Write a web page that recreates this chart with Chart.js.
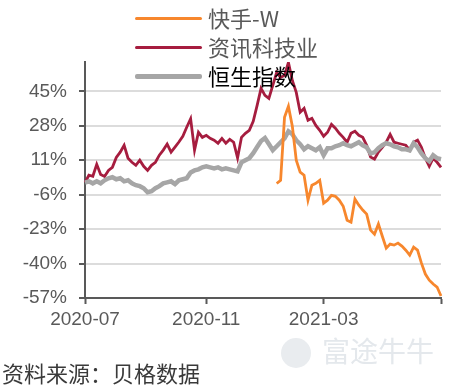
<!DOCTYPE html>
<html><head><meta charset="utf-8">
<script src="https://cdn.jsdelivr.net/npm/chart.js@4"></script>
<style>
html,body{margin:0;padding:0;background:#fff;}
#wrap{position:relative;width:460px;height:390px;overflow:hidden;font-family:'Liberation Sans','Noto Sans CJK SC',sans-serif;}
#c{position:absolute;left:0;top:0;}
.lline{position:absolute;left:135px;width:67px;}
.ltext{position:absolute;left:208px;font-family:'Noto Sans CJK SC','Liberation Sans',sans-serif;font-size:22px;line-height:24px;white-space:nowrap;}
#src{position:absolute;left:2px;top:359px;font-family:'Noto Sans CJK SC',sans-serif;font-size:22px;line-height:26px;color:#3a3a3a;}
#wm{position:absolute;left:322px;top:333px;font-family:'Noto Sans CJK SC',sans-serif;font-size:28px;line-height:34px;color:#e4e8ec;}
#logo{position:absolute;left:281px;top:338px;width:30px;height:30px;border-radius:50%;background:#e9ecef;}
</style></head><body>
<div id="wrap">
<canvas id="c" width="460" height="390"></canvas>
<div id="legend"></div>
<div id="logo"></div>
<div id="wm">富途牛牛</div>
<div id="src">资料来源：贝格数据</div>
</div>
<script>
const dates = ['2020-07-01','2020-07-05','2020-07-09','2020-07-13','2020-07-17','2020-07-21','2020-07-25','2020-07-29',
'2020-08-02','2020-08-06','2020-08-10','2020-08-14','2020-08-18','2020-08-22','2020-08-26','2020-08-30',
'2020-09-03','2020-09-07','2020-09-11','2020-09-15','2020-09-19','2020-09-23','2020-09-27',
'2020-10-01','2020-10-05','2020-10-09','2020-10-13','2020-10-17','2020-10-21','2020-10-25','2020-10-29',
'2020-11-02','2020-11-06','2020-11-10','2020-11-14','2020-11-18','2020-11-22','2020-11-26','2020-11-30',
'2020-12-04','2020-12-08','2020-12-12','2020-12-16','2020-12-20','2020-12-24','2020-12-28',
'2021-01-01','2021-01-05','2021-01-09','2021-01-13','2021-01-17','2021-01-21','2021-01-25','2021-01-29',
'2021-02-02','2021-02-06','2021-02-10','2021-02-14','2021-02-18','2021-02-22','2021-02-26',
'2021-03-02','2021-03-06','2021-03-10','2021-03-14','2021-03-18','2021-03-22','2021-03-26','2021-03-30',
'2021-04-03','2021-04-07','2021-04-11','2021-04-15','2021-04-19','2021-04-23','2021-04-27',
'2021-05-01','2021-05-05','2021-05-09','2021-05-13','2021-05-17','2021-05-21','2021-05-25','2021-05-29',
'2021-06-02','2021-06-06','2021-06-10','2021-06-14','2021-06-18','2021-06-22','2021-06-26','2021-06-30'];

// 快手-W (%), listed from 2021-01-13 in this chart
const kuaishou = [null,null,null,null,null,null,null,null,null,null,
null,null,null,null,null,null,null,null,null,null,
null,null,null,null,null,null,null,null,null,null,
null,null,null,null,null,null,null,null,null,null,
null,null,null,null,null,null,null,null,null,
-0.5,1.1,32.2,37.6,27.8,11,5.1,3.6,-8.7,-1.3,-0.4,1.1,
-10.2,-8.7,-6.3,-6.8,-8.7,-11.7,-18.6,-19.6,-8.2,-11.2,-13.6,-15.6,-23.5,-25.5,-20.5,-26.5,
-32.4,-30.4,-30.9,-29.9,-31.4,-33.4,-35.8,-31.9,-33.4,-39.8,-45.2,-48.2,-50.1,-51.6,-56];

// 资讯科技业 (%)
const itSector = [0,3.6,3.1,9,4,3,6,7.5,12.4,15,
18.4,12,10,8.5,11,8,6,8.5,10,13.5,
16,19,15,17.5,20,22.8,27.3,31.5,16,24.8,
22.3,23.3,21.8,20.9,19.4,21.8,19.4,21.3,19.9,12.1,
22.3,24.3,25.8,30.2,38.1,46.5,43,41.5,48,54.4,
51.9,52.9,59.3,50.4,44.5,34.7,36.6,30.7,31.7,28.2,
25.8,22.8,24.8,28.7,26.8,24.3,22.3,19.9,24.3,25.3,
23.3,22.3,18.4,12.6,11.6,15,17.4,19.9,23.8,19.9,
19.4,18.9,18.4,16,19.9,20.9,17.4,12,8,12,10,7.5];

// 恒生指数 (%)
const hsi = [0,0.6,-0.4,0.6,-0.4,1.1,2.1,2.6,1.6,2.1,
0.6,1.1,-0.4,-1.3,-1.8,-2.8,-4.8,-4.3,-2.8,-1.8,
-0.4,0.1,0.6,-0.8,1.1,1.6,2.1,5,6,6.5,
7.5,8,7.5,7,7.5,6.5,7,6.5,6,5.5,
10,11,12,14.5,17.5,20.5,22,19,16,17.9,
19.9,21.8,25.3,23.8,20.9,18.9,16.4,17.9,16.9,15.9,
17.4,13.5,16.9,16.9,17.9,18.4,19.4,18.4,17.9,18.9,
19.9,18.4,17.4,14.4,14.9,16.9,18.4,19.4,18.9,17.9,
17.4,16.4,16.4,15.9,19.4,17.4,14.4,12,10.5,13.5,12,11.5];

const seriesNames = ['快手-W','资讯科技业','恒生指数'];
const seriesColors = ['#F7872D','#A61D3F','#A6A6A6'];
const legendTextColors = ['#595959','#595959','#000000'];
const xTickDates = ['2020-07-01','2020-11-02','2021-03-02','2021-06-30'];
const xTickLabels = ['2020-07','2020-11','2021-03',''];
const yTicks = [-57,-40,-23,-6,11,28,45];

// HTML legend
const legendRows = [18,47,76];
const lineW = [3,3,5];
const lg = document.getElementById('legend');
seriesNames.forEach((n,i)=>{
  const l = document.createElement('div');
  l.className='lline';
  l.style.top = (legendRows[i]-lineW[i]/2)+'px';
  l.style.height = lineW[i]+'px';
  l.style.background = seriesColors[i];
  l.style.borderRadius = '2px';
  lg.appendChild(l);
  const t = document.createElement('div');
  t.className='ltext';
  t.style.top = (legendRows[i]-13)+'px';
  t.style.color = legendTextColors[i];
  t.textContent = n;
  lg.appendChild(t);
});

const tickFont = {family:"'Liberation Sans', Arial, sans-serif", size:19};

new Chart(document.getElementById('c'), {
  type:'line',
  data:{
    labels: dates,
    datasets:[
      {label:seriesNames[0], data:kuaishou, borderColor:seriesColors[0], borderWidth:2.8, pointRadius:0, tension:0, order:0, spanGaps:false},
      {label:seriesNames[1], data:itSector, borderColor:seriesColors[1], borderWidth:2.8, pointRadius:0, tension:0, order:2},
      {label:seriesNames[2], data:hsi, borderColor:seriesColors[2], borderWidth:4.5, pointRadius:0, tension:0, order:1}
    ]
  },
  options:{
    responsive:false, animation:false,
    layout:{padding:{left:0,right:19,top:62,bottom:52}},
    plugins:{legend:{display:false}, tooltip:{enabled:false}},
    scales:{
      x:{
        type:'category', offset:false,
        grid:{display:true, drawOnChartArea:false, tickLength:6, tickColor:'#595959', tickWidth:2},
        border:{display:true, color:'#595959', width:2},
        ticks:{autoSkip:false, maxRotation:0, minRotation:0, color:'#595959', font:tickFont, padding:4,
          callback:function(v){ const d=this.getLabelForValue(v); const k=xTickDates.indexOf(d); return k>=0 ? xTickLabels[k] : null; }},
        afterBuildTicks:(s)=>{ s.ticks = xTickDates.map(d=>({value:dates.indexOf(d)})); },
        afterFit:(s)=>{ s.height = 40; }
      },
      y:{
        min:-57, max:59.5,
        afterBuildTicks:(s)=>{ s.ticks = yTicks.map(v=>({value:v})); },
        afterFit:(s)=>{ s.width = 85; },
        grid:{color:'#dcdcdc', lineWidth:2, tickLength:6, tickColor:'#595959', tickWidth:2},
        border:{display:true, color:'#595959', width:2},
        ticks:{color:'#595959', font:tickFont, padding:12, callback:(v)=>v+'%'}
      }
    }
  }
});
</script>
</body></html>
